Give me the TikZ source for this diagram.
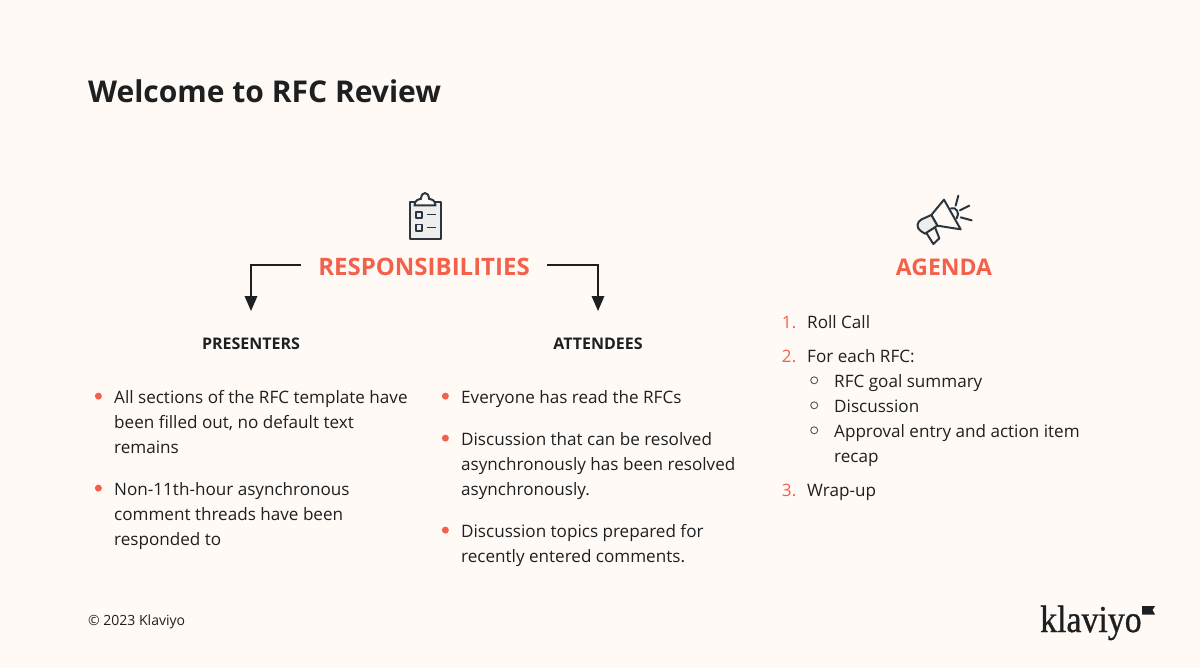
\documentclass[tikz,border=0pt]{standalone}
\usepackage{fontspec}
\usepackage{tikz}
\usetikzlibrary{positioning,arrows.meta}
\setmainfont{Open Sans}
\newfontfamily\logofont[FakeBold=0.8,FakeStretch=0.89]{Liberation Serif}
\definecolor{paper}{HTML}{FFFAF5}
\definecolor{ink}{HTML}{1E1F21}
\definecolor{coral}{HTML}{F4614A}
\definecolor{slate}{HTML}{2C3640}
\definecolor{shade}{HTML}{EEEEEC}

\begin{document}
\begin{tikzpicture}[x=1pt,y=-1pt,inner sep=0pt,text=ink]
	\tikzstyle{item}=[anchor=north west,align=left,font=\fontsize{17.1}{25}\selectfont]
	\tikzstyle{num}=[font=\fontsize{17.1}{25}\selectfont,text=coral]
	\tikzstyle{dot}=[circle,fill=coral,minimum size=7pt]
	\tikzstyle{ring}=[circle,draw=ink!75,line width=0.9pt,minimum size=7pt]
	\tikzstyle{head}=[font=\fontsize{24}{28}\selectfont\bfseries,text=coral,text height=22pt,text depth=0pt,inner xsep=17.5pt]
	\tikzstyle{sub}=[font=\fontsize{16}{18}\selectfont\bfseries,anchor=base]
	\tikzstyle{link}=[draw=ink,line width=2.7pt,-{Triangle[length=15pt,width=12pt]}]
	\tikzstyle{icon}=[draw=slate,line width=2pt,line join=round]
		\fill[paper] (0,0) rectangle (1200,668);
		\node[anchor=base west, font=\fontsize{30}{36}\selectfont\bfseries] (title) at (88,102.5) {Welcome to RFC Review};
		\node[head] (resp) at (424,265) {RESPONSIBILITIES};
		\node[head, font=\fontsize{23}{28}\selectfont\bfseries] (agenda) at (944,265) {AGENDA};
		\node[sub] (presenters) at (251,350) {PRESENTERS};
		\node[sub] (attendees) at (598,350) {ATTENDEES};
			\draw[link, shorten >=27pt] (resp) -| (presenters);
			\draw[link, shorten >=27pt] (resp) -| (attendees);
		\node[item] (p1) at (114,385.5) {\strut All sections of the RFC template have\\been filled out, no default text\\remains};
		\node[item] (p2) [below right=92pt and 0pt of p1.north west] {\strut Non-11th-hour asynchronous\\comment threads have been\\responded to};
		\node[dot] (d1) [below left=8pt and 13pt of p1.north west] {};
		\node[dot] (d2) [below left=8pt and 13pt of p2.north west] {};
		\node[item] (t1) at (461,385.5) {\strut Everyone has read the RFCs};
		\node[item] (t2) [below right=42pt and 0pt of t1.north west] {\strut Discussion that can be resolved\\asynchronously has been resolved\\asynchronously.};
		\node[item] (t3) [below right=92pt and 0pt of t2.north west] {\strut Discussion topics prepared for\\recently entered comments.};
		\node[dot] (d3) [below left=8pt and 13pt of t1.north west] {};
		\node[dot] (d4) [below left=8pt and 13pt of t2.north west] {};
		\node[dot] (d5) [below left=8pt and 13pt of t3.north west] {};
		\node[item] (a1) at (807,310.5) {\strut Roll Call};
		\node[item] (a2) [below right=34pt and 0pt of a1.north west] {\strut For each RFC:};
		\node[item] (a3) [below right=25pt and 27pt of a2.north west] {\strut RFC goal summary};
		\node[item] (a4) [below right=25pt and 0pt of a3.north west] {\strut Discussion};
		\node[item] (a5) [below right=25pt and 0pt of a4.north west] {\strut Approval entry and action item\\recap};
		\node[item] (a6) [below right=59pt and -27pt of a5.north west] {\strut Wrap-up};
		\node[num] (n1) [below left=0pt and 10.5pt of a1.north west] {\strut 1.};
		\node[num] (n2) [below left=0pt and 10.5pt of a2.north west] {\strut 2.};
		\node[num] (n3) [below left=0pt and 10.5pt of a6.north west] {\strut 3.};
		\node[ring] (r1) [below left=8pt and 17pt of a3.north west] {};
		\node[ring] (r2) [below left=8pt and 17pt of a4.north west] {};
		\node[ring] (r3) [below left=8pt and 17pt of a5.north west] {};
		\node[anchor=base west, font=\fontsize{14}{16}\selectfont] (copy) at (88,625) {© 2023 Klaviyo};
		\node[anchor=base west, font=\fontsize{38}{40}\selectfont\logofont] (logo) at (1040,632) {klaviyo};
		\fill[ink] (1142,606) -- (1155,606) -- (1152.5,610) -- (1155,614.5) -- (1142,614.5) -- cycle;
		\draw[icon, fill=shade] (409.5,202.5) rectangle (440.5,239);
		\draw[icon, fill=paper] (414.5,205.5) .. controls (414.5,200) and (419,199) .. (421,199) .. controls (421,191) and (429,191) .. (429,199) .. controls (431,199) and (435.5,200) .. (435.5,205.5) -- cycle;
		\draw[icon, line width=1.8pt] (415.7,211.7) rectangle (422.3,218);
		\draw[icon, line width=1.8pt] (415.7,224.5) rectangle (422.3,230.8);
		\draw[icon, line width=1.8pt] (427,214.5) -- (436,214.5);
		\draw[icon, line width=1.8pt] (427,227.5) -- (436,227.5);
		\begin{scope}[shift={(890,185)},x=0.3333pt,y=-0.3333pt,line cap=round]
			\draw[icon, fill=paper] (183,70) .. controls (200,65) and (210,85) .. (200,100);
			\draw[icon, fill=paper] (124,90) -- (162,44) -- (212,133) -- (142,122) -- cycle;
			\draw[icon, fill=paper] (108,142) -- (135,127) -- (148,160) -- (130,177) -- cycle;
			\draw[icon, fill=shade] (124,90) -- (95,103) .. controls (80,110) and (78,128) .. (92,138) -- (105,146) -- (142,122) -- cycle;
			\draw[icon] (197,62) -- (205,32);
			\draw[icon] (210,76) -- (238,62);
			\draw[icon] (212,97) -- (245,106);
		\end{scope}
\end{tikzpicture}
\end{document}
